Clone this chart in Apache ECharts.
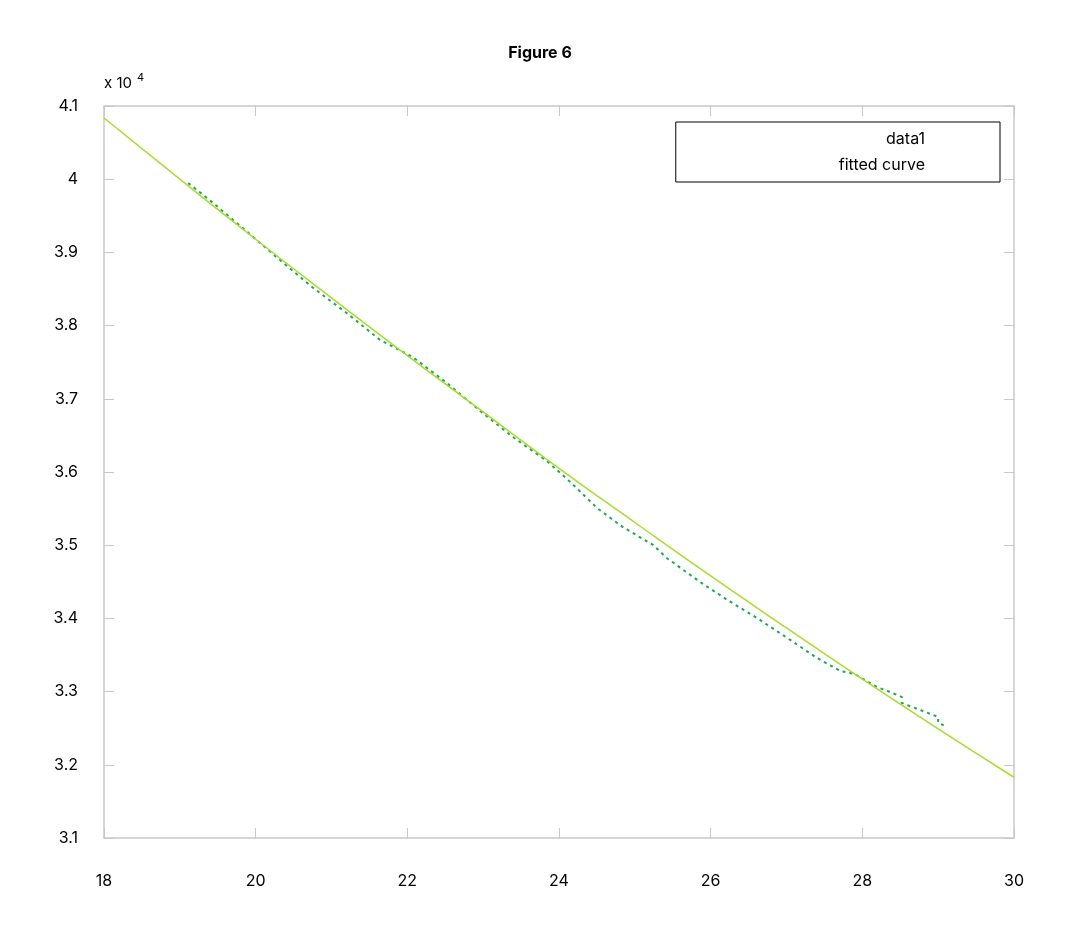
<!DOCTYPE html>
<html><head><meta charset="utf-8">
<script src="https://cdn.jsdelivr.net/npm/echarts@6/dist/echarts.min.js"></script>
<style>html,body{margin:0;background:#fff}#c{width:1080px;height:925px}</style>
</head><body><div id="c"></div>
<script>
const dataX = [19.11,19.44,19.89,20.32,20.76,21.20,21.64,22.07,22.52,22.96,23.39,23.84,24.15,24.50,24.84,25.24,25.42,25.86,26.22,26.61,27.09,27.40,27.71,27.90,28.19,28.33,28.52,28.52,28.76,29.00,29.00,29.12];
const dataY = [39948,39675,39279,38896,38514,38172,37804,37571,37216,36834,36479,36150,35864,35509,35249,35003,34826,34498,34252,34006,33678,33460,33282,33241,33064,33009,32927,32845,32749,32654,32572,32517];
const fitX = [18,19,20,21,22,23,24,25,26,27,28,29,30];
const fitY = [40836,40000,39180,38380,37590,36820,36050,35310,34580,33870,33170,32490,31830];
const xTicks = [18,20,22,24,26,28,30];
const yTicks = [31000,32000,33000,34000,35000,36000,37000,38000,39000,40000,41000];

const font = 'Inter, "Noto Sans", sans-serif';
const ax = '#c8c8c8';
const chart = echarts.init(document.getElementById('c'));
const zip = (a,b)=>a.map((v,i)=>[v,b[i]]);
chart.setOption({
  animation:false,
  title:{text:'Figure 6',left:'center',top:40,textStyle:{fontFamily:font,fontSize:16,fontWeight:'bold',color:'#000'}},
  graphic:[{type:'text',left:104,top:76,style:{text:'x 10',font:'15px '+font,fill:'#000'}},
           {type:'text',left:137,top:72,style:{text:'4',font:'11px '+font,fill:'#000'}}],
  grid:{left:104,right:66,top:106,bottom:87},
  legend:{orient:'vertical',right:80,top:122,align:'right',itemWidth:1,itemHeight:1,itemGap:10,
    padding:[9,68,9,163],borderColor:'#000',borderWidth:1,
    textStyle:{fontFamily:font,fontSize:16,color:'#000'},
    data:[{name:'data1',itemStyle:{opacity:0},lineStyle:{opacity:0}},{name:'fitted curve',itemStyle:{opacity:0},lineStyle:{opacity:0}}]},
  xAxis:[{type:'value',min:18,max:30,interval:2,position:'bottom',
    axisLine:{lineStyle:{color:ax,width:1.5}},axisTick:{inside:true,length:10,lineStyle:{color:ax}},
    splitLine:{show:false},axisLabel:{margin:35,fontFamily:font,fontSize:16,color:'#000',
    customValues:xTicks}},
    {type:'value',min:18,max:30,interval:2,position:'top',axisLine:{lineStyle:{color:ax,width:1.5}},
    axisTick:{inside:true,length:10,lineStyle:{color:ax}},axisLabel:{show:false},splitLine:{show:false}}],
  yAxis:[{type:'value',min:31000,max:41000,interval:1000,position:'left',
    axisLine:{show:true,lineStyle:{color:ax,width:1.5}},axisTick:{show:true,inside:true,length:10,lineStyle:{color:ax}},
    splitLine:{show:false},axisLabel:{margin:26,fontFamily:font,fontSize:16,color:'#000',
      formatter:v=>String(+(v/10000).toFixed(2))}},
    {type:'value',min:31000,max:41000,interval:1000,position:'right',
    axisLine:{show:true,lineStyle:{color:ax,width:1.5}},axisTick:{show:true,inside:true,length:10,lineStyle:{color:ax}},
    splitLine:{show:false},axisLabel:{show:false}}],
  series:[
    {name:'data1',type:'line',data:zip(dataX,dataY),showSymbol:false,smooth:false,
      lineStyle:{color:'#1fa84f',width:2,type:[3,4]},itemStyle:{color:'#1fa84f'}},
    {name:'fitted curve',type:'line',data:zip(fitX,fitY),showSymbol:false,smooth:true,
      lineStyle:{color:'#a8dc2c',width:1.5},itemStyle:{color:'#a8dc2c'}}
  ]
});
</script></body></html>
